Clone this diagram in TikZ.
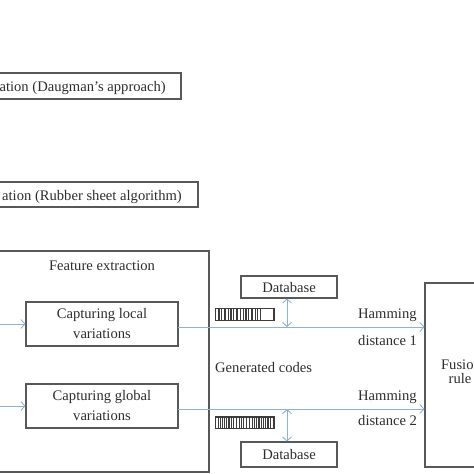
\documentclass[tikz,border=0pt]{standalone}
\usepackage{fontspec}
\setmainfont{Liberation Serif}
\usetikzlibrary{arrows.meta}
\definecolor{ln}{RGB}{88,88,88}
\definecolor{tx}{RGB}{45,45,45}
\definecolor{bl}{RGB}{140,178,212}
\definecolor{bc}{RGB}{60,60,60}
\begin{document}
\begin{tikzpicture}[x=1pt,y=-1pt,
  font=\fontsize{14.6}{20}\selectfont, text=tx,
  box/.style={draw=ln, line width=1.1pt, inner sep=0pt},
  lbl/.style={inner sep=0pt},
  arr/.style={draw=bl, line width=0.9pt, -{Straight Barb[length=4pt,width=9pt]}},
  darr/.style={draw=bl, line width=0.9pt, {Straight Barb[length=4pt,width=9pt]}-{Straight Barb[length=4pt,width=9pt]}}]
\useasboundingbox (0,0) rectangle (474,474);
\clip (0,0) rectangle (474,474);

% top (cropped) boxes
\node[box, minimum width=241pt, minimum height=26pt] (seg) at (60.5,86) {};
\node[lbl, anchor=base east] (segt) at (166,91) {ation (Daugman’s approach)};
\node[box, minimum width=258pt, minimum height=25pt] (norm) at (69,194.5) {};
\node[lbl, anchor=base east] (normt) at (182,200) {ation (Rubber sheet algorithm)};

% feature extraction
\node[box, minimum width=269pt, minimum height=221pt] (feat) at (74.5,361.5) {};
\node[lbl, anchor=base] (featt) at (102,270) {Feature extraction};
\node[box, minimum width=152pt, minimum height=44pt, align=center] (local) at (102,324) {Capturing local\\variations};
\node[box, minimum width=152pt, minimum height=44pt, align=center] (global) at (102,406) {Capturing global\\variations};

% databases
\node[box, minimum width=96pt, minimum height=22pt] (db1) at (289,287) {};
\node[lbl, anchor=base] (db1t) at (289,292) {Database};
\node[box, minimum width=96pt, minimum height=25pt] (db2) at (289,454.5) {};
\node[lbl, anchor=base] (db2t) at (289,459) {Database};

% fusion
\node[box, minimum width=100pt, minimum height=184pt] (fusion) at (475,375) {};
\node[lbl, anchor=base] (fus1) at (461,369.3) {Fusion};
\node[lbl, anchor=base] (fus2) at (460,383.3) {rule};

% labels
\node[lbl, anchor=base west] (h1) at (358,318) {Hamming};
\node[lbl, anchor=base west] (d1t) at (358,345.5) {distance 1};
\node[lbl, anchor=base west] (h2) at (358,400) {Hamming};
\node[lbl, anchor=base west] (d2t) at (358,425.5) {distance 2};
\node[lbl, anchor=base west] (gen) at (215,372) {Generated codes};

% connectors
\coordinate (L0) at (-2,0);
\draw[arr] (local.west -| L0) -- (local.west);
\draw[arr] (global.west -| L0) -- (global.west);
\coordinate (o1) at (178,327);
\coordinate (o2) at (178,409);
\draw[arr] (o1) -- (o1 -| fusion.west);
\draw[arr] (o2) -- (o2 -| fusion.west);
\coordinate (j1) at (287,327);
\coordinate (j2) at (287,409);
\draw[darr] (j1 |- db1.south) -- (j1);
\draw[darr] (j2) -- (j2 |- db2.north);

% barcodes
\draw[bc, line width=1.3pt, fill=white] (215.5,308.5) rectangle (274,320.5);
\foreach \a/\w in {218/1.6,221/1,223.5/2,227.5/1,230/1.6,233/1,236/2.2,240/1,242.5/1,245/1.6,248/1,250.5/2,254.5/1,257/1.2,259.5/1.5}
  \fill[bc] (\a,309) rectangle ++(\w,11);
\draw[bc, line width=1.3pt, fill=white] (215.5,417) rectangle (274,428.5);
\foreach \a/\w in {217.5/1.2,219.5/1,221.5/1.6,224/1,226/1,228/1.8,231/1,233/1.2,235.5/1,238.5/1.6,241/1,243/1.2,245.5/1,248.5/1.8,251.5/1,253.5/1.2,256/1,258/1.6,260.5/1,262.5/1.2,265/1,267/1.6,269.5/1}
  \fill[bc] (\a,417.5) rectangle ++(\w,10.5);
\end{tikzpicture}
\end{document}
